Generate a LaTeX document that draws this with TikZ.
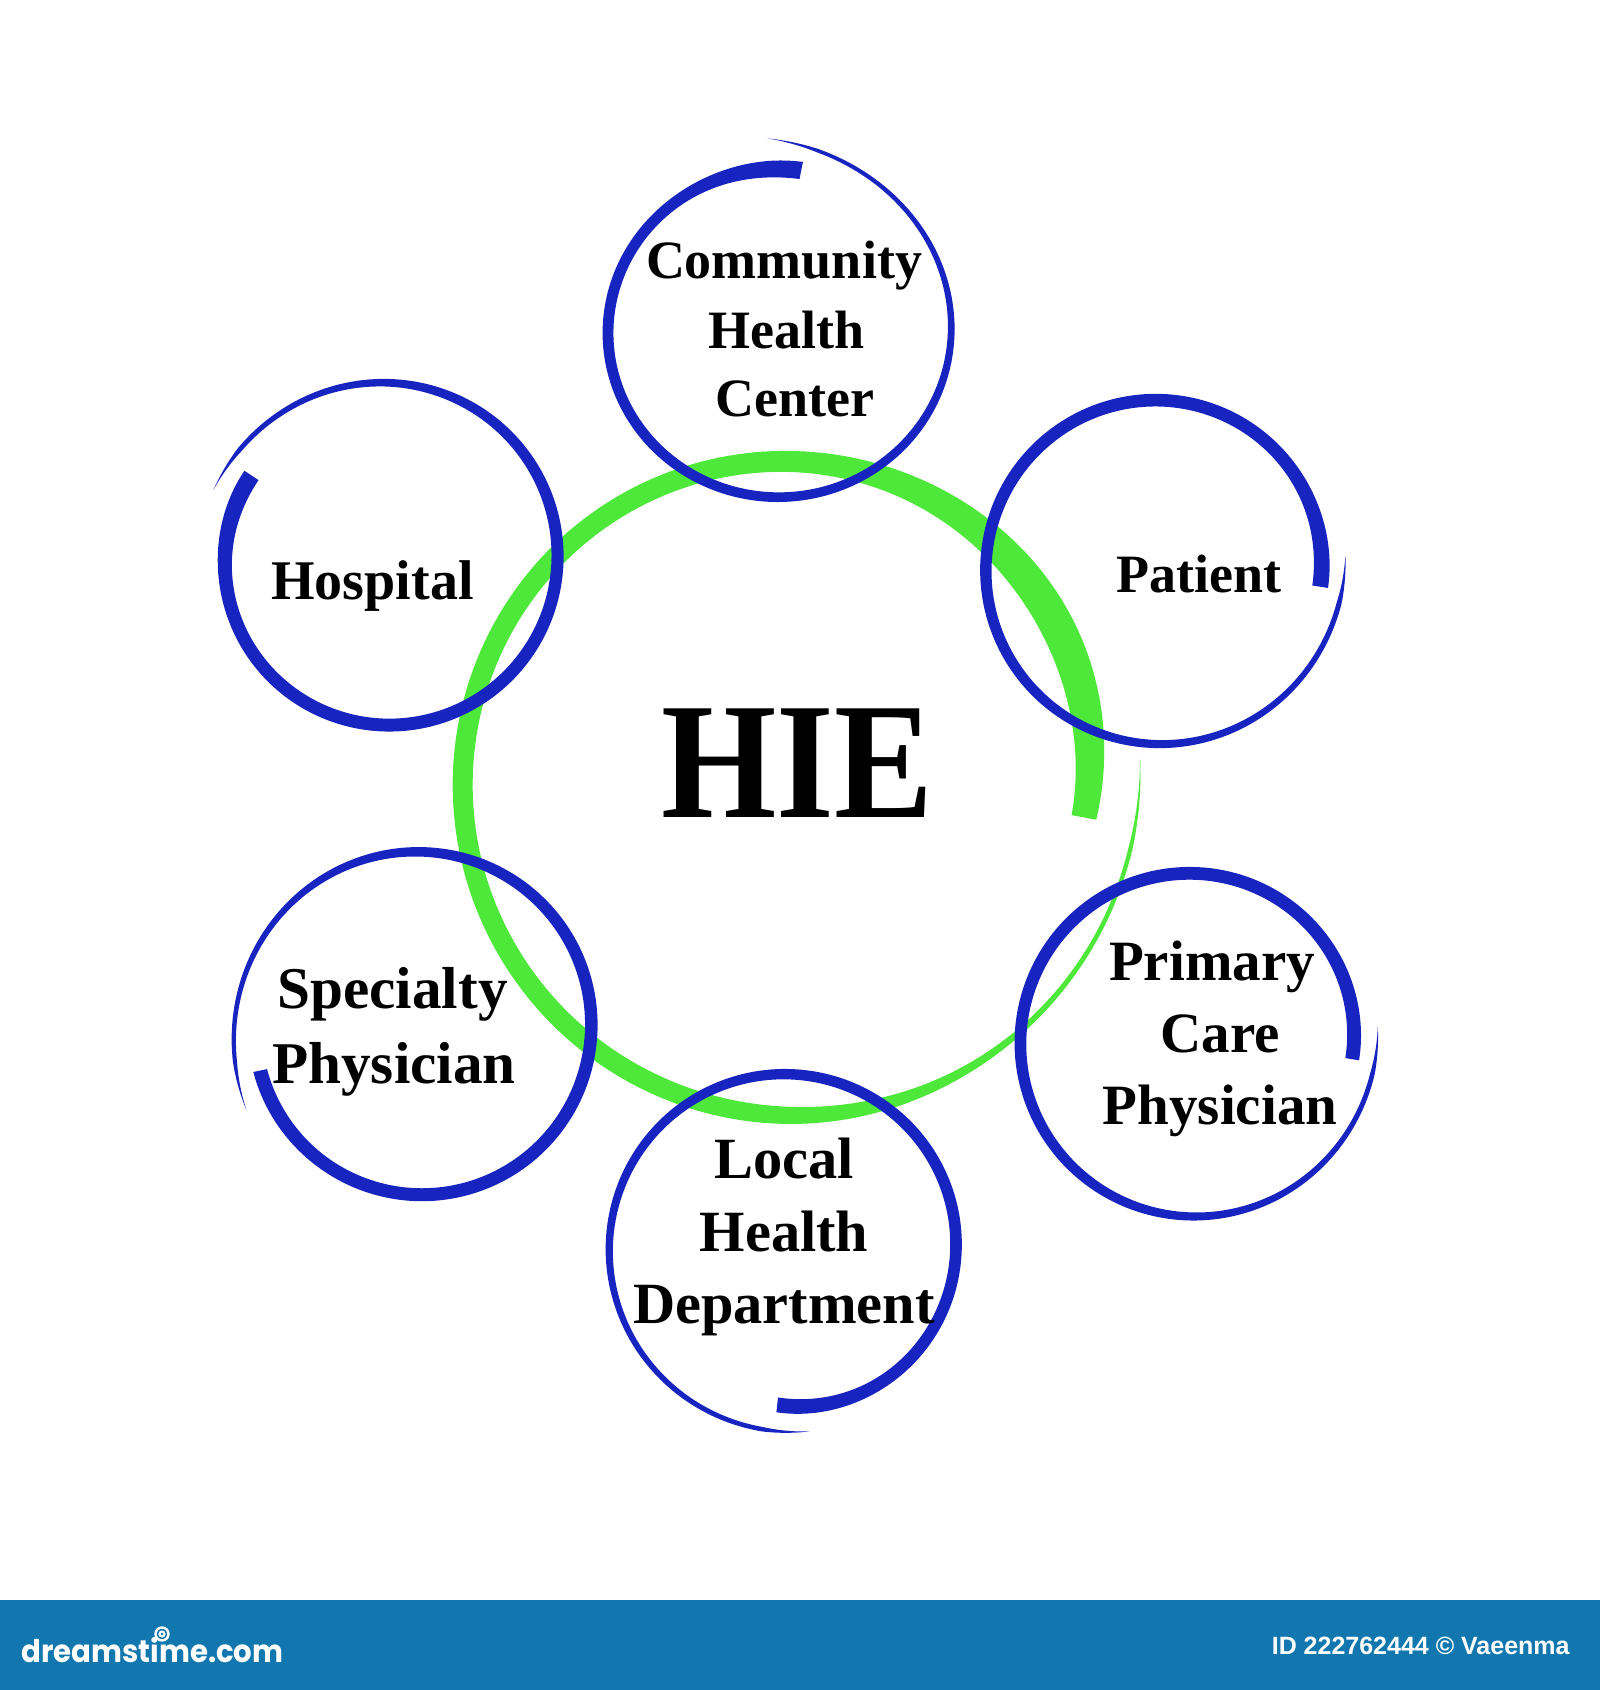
\documentclass[tikz,border=0pt]{standalone}
\usepackage{fontspec}
\usepackage{graphicx}
\setmainfont{Liberation Serif}
\newfontfamily\barfont{Liberation Sans}
\newfontfamily\logofont{Poppins}

\definecolor{hiegreen}{RGB}{78,232,58}
\definecolor{ringblue}{RGB}{24,36,192}
\definecolor{barblue}{RGB}{17,119,174}

\pgfkeys{
 /brush/cx/.store in=\brshcx,
 /brush/cy/.store in=\brshcy,
 /brush/a/.store in=\brsha,
 /brush/sweep/.store in=\brshsw,
 /brush/R/.store in=\brshR,
 /brush/ey/.store in=\brshey,
 /brush/dS/.store in=\brshdS,
 /brush/dE/.store in=\brshdE,
 /brush/pE/.store in=\brshpE,
 /brush/wS/.store in=\brshwS,
 /brush/wM/.store in=\brshwM,
 /brush/wE/.store in=\brshwE,
 /brush/tc/.store in=\brshtc,
 /brush/ts/.store in=\brshts,
 /brush/tp/.store in=\brshtp,
 /brush/tw/.store in=\brshtw,
}

\tikzset{
  declare function={
    brad(\t)=\brshR-\brshdS*((1-\t)*(1-\t)*(1-\t))*((1-\t)*(1-\t)*(1-\t))+\brshdE*(\t^\brshpE);
    bwid(\t)=(\brshwE+(\brshwM-\brshwE)/(1+exp(min(9,max(-9,(\t-\brshtc)/\brshts))))
             +(\brshwS-\brshwM)*exp(-min(9,((\t-\brshtp)/\brshtw)*((\t-\brshtp)/\brshtw))))*min(1,(1-\t)*25);
    bang(\t)=\brsha+\brshsw*\t;
  },
  lab/.style={inner sep=0pt, anchor=base, text=black},
}

\newcommand\brushring[2]{%
  \pgfkeys{/brush/.cd,ey=1,dS=0,dE=0,pE=4,tp=0,tw=0.08,ts=0.1,#1}%
  \fill[#2] plot[domain=0:1,samples=300,variable=\t]
     ({\brshcx+(brad(\t)+0.5*bwid(\t))*cos(bang(\t))},{\brshcy-\brshey*(brad(\t)+0.5*bwid(\t))*sin(bang(\t))})
   -- plot[domain=1:0,samples=300,variable=\t]
     ({\brshcx+(brad(\t)-0.5*bwid(\t))*cos(bang(\t))},{\brshcy-\brshey*(brad(\t)-0.5*bwid(\t))*sin(bang(\t))})
   -- cycle;}

\newcommand\labfont[1]{\fontsize{#1}{#1}\selectfont\bfseries}

\begin{document}
\begin{tikzpicture}[x=0.5pt,y=-0.5pt]
% canvas
\fill[white] (0,0) rectangle (1600,1690);

% central green brush ring
\brushring{cx=789,cy=782,a=-7,sweep=371,R=325,dS=28,dE=27,pE=4,wS=34,wM=20,wE=4,tc=0.8,ts=0.035,tp=0.1,tw=0.1}{hiegreen}

% blue brush rings
\brushring{cx=778,cy=333,a=82,sweep=371,R=170,ey=0.965,dS=0,dE=32,pE=8,wS=18,wM=11,wE=2.5,tc=0.75,ts=0.12}{ringblue}
\brushring{cx=388,cy=557,a=149,sweep=370,R=169,dS=10,dE=18,pE=6,wS=17,wM=13,wE=3,tc=0.8,ts=0.1}{ringblue}
\brushring{cx=1157,cy=570,a=-6,sweep=370.5,R=171,dS=7,dE=18,pE=6,wS=16,wM=13,wE=3,tc=0.75,ts=0.15}{ringblue}
\brushring{cx=421,cy=1025.5,a=195.5,sweep=370.5,R=170,dS=3,dE=24,pE=5,wS=14,wM=13,wE=3,tc=0.75,ts=0.1}{ringblue}
\brushring{cx=1191.5,cy=1042.75,a=-6,sweep=371,R=171,dS=9.5,dE=16,pE=6,wS=14,wM=13,wE=3,tc=0.75,ts=0.13}{ringblue}
\brushring{cx=785,cy=1248,a=267,sweep=370.7,R=174,dS=17,dE=11,pE=6,wS=15,wM=12,wE=3,tc=0.72,ts=0.15}{ringblue}

% centre label
\node[lab, font=\labfont{83pt}] (hie) at (797,817) {\scalebox{0.893}[1]{HIE}};

% Community Health Center
\node[lab, font=\labfont{27pt}] (chc1) at (784,279) {Community};
\node[lab, font=\labfont{27pt}] (chc2) at (786,349) {Health};
\node[lab, font=\labfont{27pt}] (chc3) at (795,416) {Center};

% Hospital
\node[lab, font=\labfont{28pt}] (hosp) at (372.5,599) {Hospital};

% Patient
\node[lab, font=\labfont{27pt}] (pat) at (1199,592) {Patient};

% Specialty Physician
\node[lab, font=\labfont{29.6pt}] (spe1) at (392.5,1008) {Specialty};
\node[lab, font=\labfont{29.6pt}] (spe2) at (394,1083) {Physician};

% Primary Care Physician
\node[lab, font=\labfont{28.5pt}] (pcp1) at (1212,980) {Primary};
\node[lab, font=\labfont{28.5pt}] (pcp2) at (1220,1052) {Care};
\node[lab, font=\labfont{28.5pt}] (pcp3) at (1220,1124) {Physician};

% Local Health Department
\node[lab, font=\labfont{29.2pt}] (lhd1) at (784,1178) {Local};
\node[lab, font=\labfont{29.2pt}] (lhd2) at (784,1251) {Health};
\node[lab, font=\labfont{29.2pt}] (lhd3) at (784,1323) {Department};

% bottom bar
\fill[barblue] (0,1600) rectangle (1600,1690);
\node[inner sep=0pt, anchor=base west, text=white] (logo) at (21,1662)
  {\resizebox{131pt}{12.5pt}{\logofont\bfseries dreamstime.com}};
\draw[white, line width=1.2pt] (162,1634) circle[radius=6.5];
\draw[white, line width=1.0pt] (162,1634) circle[radius=2.5];
\node[inner sep=0pt, anchor=base east, text=white, font=\barfont\bfseries\fontsize{12.5pt}{12.5pt}\selectfont] (credit) at (1570,1654)
  {ID 222762444 © Vaeenma};
\end{tikzpicture}
\end{document}
